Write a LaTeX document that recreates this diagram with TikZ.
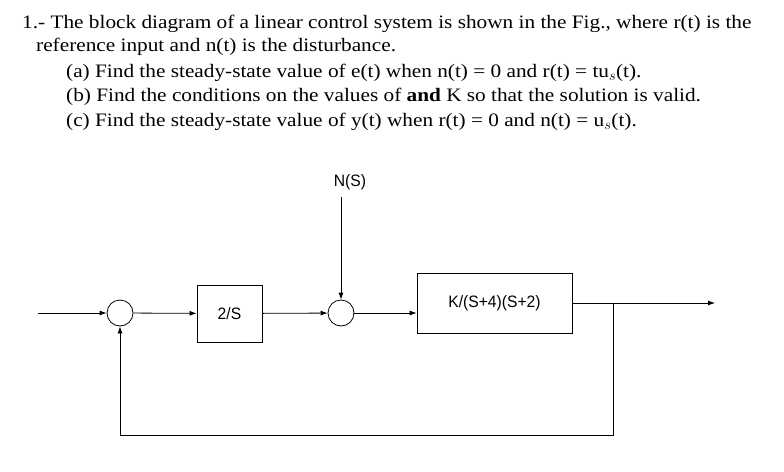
\documentclass[tikz,border=0pt]{standalone}
\usepackage{fontspec}
\setmainfont{Liberation Serif}[FakeStretch=1.12]
\setsansfont{Liberation Sans}[FakeStretch=0.95]
\usetikzlibrary{arrows.meta}
\begin{document}
\begin{tikzpicture}[x=1pt,y=-1pt,
  sumj/.style={circle,draw,thick,minimum size=26pt,inner sep=0pt},
  blk/.style={draw,thick,inner sep=0pt,font=\sffamily\fontsize{16.5}{18}\selectfont},
  txt/.style={anchor=west,inner sep=0pt,font=\fontsize{19}{22}\selectfont},
  con/.style={thick,-{Latex[length=7pt,width=5pt]}}]
\useasboundingbox (0,0) rectangle (784,471);
\node[txt] (t1) at (22,24) {1.- The block diagram of a linear control system is shown in the Fig., where r(t) is the};
\node[txt] (t2) at (36,47) {reference input and n(t) is the disturbance.};
\node[txt] (t3) at (66,73) {(a) Find the steady-state value of e(t) when n(t) = 0 and r(t) = tu$_s$(t).};
\node[txt] (t4) at (66,97) {(b) Find the conditions on the values of \textbf{and} K so that the solution is valid.};
\node[txt] (t5) at (66,122) {(c) Find the steady-state value of y(t) when r(t) = 0 and n(t) = u$_s$(t).};
\node[sumj] (s1) at (120,313) {};
\node[sumj] (s2) at (341,313) {};
\node[blk,minimum width=65pt,minimum height=57pt] (g1) at (229.5,313.5) {2/S};
\node[blk,minimum width=155pt,minimum height=60pt] (g2) at (494.5,303) {K/(S+4)(S+2)};
\node[font=\sffamily\fontsize{16.5}{18}\selectfont] (ns) at (350,182) {N(S)};
\coordinate (in) at (38,313);
\coordinate (out) at (715,303);
\coordinate (tap) at (613,303);
\coordinate (nt) at (341,197);
\coordinate (b1) at (613,435);
\coordinate (b2) at (120,435);
\draw[con] (in) -- (s1);
\draw[con] (s1) -- (g1);
\draw[con] (g1) -- (s2);
\draw[con] (nt) -- (s2);
\draw[con] (s2.east) -- (g2.west|-s2.east);
\draw[con] (g2.east) -- (out);
\draw[con] (tap) -- (b1) -- (b2) -- (s1);
\end{tikzpicture}
\end{document}
